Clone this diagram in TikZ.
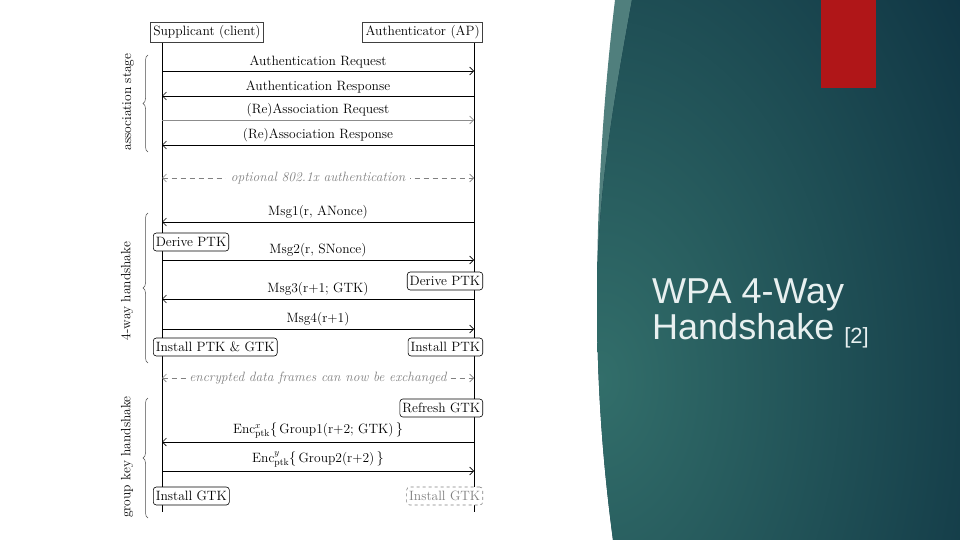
\documentclass[tikz,border=0pt]{standalone}
\usepackage{fontspec}
\newfontfamily\titlefont{Liberation Sans}
\usepackage{tikz}
\usetikzlibrary{positioning,%
  arrows.meta,%
  calc,%
  decorations.pathreplacing
}
\definecolor{panel}{RGB}{13,49,65}
\definecolor{panellight}{RGB}{50,110,106}
\definecolor{stripe}{RGB}{80,127,125}
\definecolor{ribbon}{RGB}{176,22,24}
\definecolor{titletext}{RGB}{232,240,240}
\newcommand{\msgfont}{\fontsize{13.5}{15}\selectfont}

\begin{document}
\begin{tikzpicture}[x=1pt,y=-1pt,
    head/.style={draw=black!75,line width=0.6pt,inner sep=3pt,minimum height=20pt,font=\msgfont},
    box/.style={draw,rounded corners=3pt,fill=white,line width=0.6pt,inner xsep=2.5pt,inner ysep=2pt,minimum height=18pt,font=\msgfont},
    msg/.style={line width=0.65pt,-{Straight Barb[length=4pt,width=8pt]}},
    aside/.style={gray,line width=0.6pt,dash pattern=on 5pt off 4pt,
        {Straight Barb[length=4pt,width=8pt]}-{Straight Barb[length=4pt,width=8pt]}},
    lbl/.style={above,inner sep=1.5pt,yshift=1.5pt,font=\msgfont},
    note/.style={fill=white,inner xsep=5pt,inner ysep=2pt,text=gray,font=\msgfont\itshape},
    stage/.style={rotate=90,font=\msgfont},
    stagebrace/.style={decorate,decoration={brace,amplitude=5pt},line width=0.5pt,black!70},
    slidetitle/.style={text=titletext,font=\titlefont\fontsize{36}{40}\selectfont,inner sep=0pt}]
            \useasboundingbox (0,0) rectangle (960,540);
            % slide background
            \fill[white] (0,0) rectangle (960,540);
            \fill[stripe] (615,0) .. controls (603,100) and (597,200) .. (597,300)
                -- (640,300) -- (640,0) -- cycle;
            \begin{scope}
                \clip (632,0) .. controls (612,110) and (597,200) .. (597,300)
                    .. controls (597,400) and (605,480) .. (613,540)
                    -- (960,540) -- (960,0) -- cycle;
                \fill[panel] (590,0) rectangle (960,540);
                \shade[inner color=panellight,outer color=panel] (600,380) ellipse (480pt and 720pt);
            \end{scope}
            \fill[ribbon] (821,0) rectangle (876,88);
            \node[slidetitle,anchor=base west] (wpa) at (652,303) {WPA 4-Way};
            \node[slidetitle,anchor=base west] (hs) at ($(wpa.base west)+(0,36)$)
                {Handshake \raisebox{-4pt}{\fontsize{22}{24}\selectfont[2]}};
            % participants and lifelines
            \node[head,anchor=north west] (supp) at (150,22) {Supplicant (client)};
            \node[head,anchor=north east] (auth) at (483,22) {Authenticator (AP)};
            \coordinate (sTop) at ([xshift=12pt]supp.south west);
            \coordinate (aTop) at ([xshift=-9pt]auth.south east);
            \coordinate (sBot) at (sTop |- 0,512);
            \coordinate (aBot) at (aTop |- 0,512);
            \draw[line width=0.6pt] (sTop) -- (sBot);
            \draw[line width=0.6pt] (aTop) -- (aBot);
            \foreach \n/\y in {1/71,2/96,3/120,4/145,5/178,6/222,7/260,8/299,9/329,10/378,11/442,12/471}
                {
                \coordinate (s\n) at (sTop |- 0,\y);
                \coordinate (a\n) at (aTop |- 0,\y);
                }
            % association stage
            \draw[msg] (s1) -- node[lbl] (m1) {Authentication Request} (a1);
            \draw[msg] (a2) -- node[lbl] (m2) {Authentication Response} (s2);
            \draw[msg,black!45] (s3) -- node[lbl,text=black] (m3) {(Re)Association Request} (a3);
            \draw[msg] (a4) -- node[lbl] (m4) {(Re)Association Response} (s4);
            \draw[aside] (s5) -- node[note] (n1) {optional 802.1x authentication} (a5);
            % 4-way handshake
            \draw[msg] (a6) -- node[lbl] (m6) {Msg1(r, ANonce)} (s6);
            \node[box,anchor=west] (deriveS) at (153,242) {Derive PTK};
            \draw[msg] (s7) -- node[lbl] (m7) {Msg2(r, SNonce)} (a7);
            \node[box,anchor=east] (deriveA) at (483,281) {Derive PTK};
            \draw[msg] (a8) -- node[lbl] (m8) {Msg3(r+1; GTK)} (s8);
            \draw[msg] (s9) -- node[lbl] (m9) {Msg4(r+1)} (a9);
            \node[box,anchor=west] (installS) at (153,347) {Install PTK \& GTK};
            \node[box,anchor=east] (installA) at (483,347) {Install PTK};
            \draw[aside] (s10) -- node[note,inner xsep=3pt] (n2) {encrypted data frames can now be exchanged} (a10);
            % group key handshake
            \node[box,anchor=east] (refresh) at (483,408) {Refresh GTK};
            \draw[msg] (a11) -- node[lbl] (m11)
                {Enc$^{x}_{\mathrm{ptk}}\{$\,Group1(r+2; GTK)\,$\}$} (s11);
            \draw[msg] (s12) -- node[lbl] (m12)
                {Enc$^{y}_{\mathrm{ptk}}\{$\,Group2(r+2)\,$\}$} (a12);
            \node[box,anchor=west] (gtkS) at (153,496) {Install GTK};
            \node[box,anchor=east,draw=gray,dashed,text=gray] (gtkA) at (483,496) {Install GTK};
            % stages
            \coordinate (b1) at (148,152);
            \coordinate (t1) at (148,55);
            \coordinate (b2) at (148,363);
            \coordinate (t2) at (148,213);
            \coordinate (b3) at (148,518);
            \coordinate (t3) at (148,398);
            \draw[stagebrace] (b1) -- (t1);
            \draw[stagebrace] (b2) -- (t2);
            \draw[stagebrace] (b3) -- (t3);
            \node[stage] (st1) at (128,102) {association stage};
            \node[stage] (st2) at (127,291) {4-way handshake};
            \node[stage] (st3) at (127,457) {group key handshake};
        \end{tikzpicture}
\end{document}
